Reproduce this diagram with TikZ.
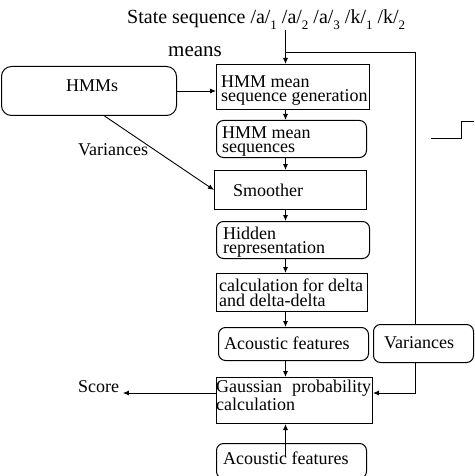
\documentclass[tikz,border=0pt]{standalone}
\usepackage{fontspec}
\setmainfont{Liberation Serif}
\usetikzlibrary{arrows.meta,calc}
\newcommand\sbs[1]{\raisebox{-5.5pt}{\fontsize{13}{13}\selectfont #1}}
\begin{document}
\begin{tikzpicture}[x=1pt,y=-1pt,
  line/.style={line width=0.9pt},
  arr/.style={line width=0.9pt,-{Latex[length=6pt,width=5pt]}},
  sqbox/.style={draw,line width=1pt,inner sep=0pt,anchor=north west},
  rdbox/.style={draw,line width=1pt,inner sep=0pt,anchor=north west,rounded corners=7pt},
  txt/.style={inner sep=0pt,anchor=base west,align=left,font=\fontsize{18}{14}\selectfont}]
\useasboundingbox (0,0) rectangle (474,476);
% boxes
\node[rdbox,rounded corners=10pt,minimum width=175pt,minimum height=49pt] (hmms) at (1,66) {};
\node[sqbox,minimum width=153pt,minimum height=45pt] (gen) at (216,64) {};
\node[rdbox,minimum width=150pt,minimum height=37pt] (mseq) at (216,120) {};
\node[sqbox,minimum width=152pt,minimum height=39pt] (smo) at (214,170) {};
\node[rdbox,minimum width=153pt,minimum height=37pt] (hid) at (216,221) {};
\node[sqbox,minimum width=151pt,minimum height=38pt] (calc) at (216,273) {};
\node[rdbox,minimum width=150pt,minimum height=33pt] (ac1) at (218,327) {};
\node[rdbox,minimum width=100pt,minimum height=38pt] (var) at (373,324) {};
\node[sqbox,minimum width=156pt,minimum height=46pt] (gau) at (216,377) {};
\node[rdbox,minimum width=150pt,minimum height=35pt] (ac2) at (216,443) {};
% texts (base anchor of a multi-line text = baseline of its last line)
\node[txt,font=\fontsize{20}{20}\selectfont] (title) at (127,24) {State sequence /a/\sbs{1} /a/\sbs{2} /a/\sbs{3} /k/\sbs{1} /k/\sbs{2}};
\node[txt,font=\fontsize{21}{21}\selectfont] (means) at (168,57) {means};
\node[txt] (hmmst) at (66,92) {HMMs};
\node[txt,font=\fontsize{18}{14.5}\selectfont] (gent) at (221,102) {HMM mean\\sequence generation};
\node[txt,font=\fontsize{18}{13.5}\selectfont] (mseqt) at (222,152) {HMM mean\\sequences};
\node[txt] (vart1) at (78,155) {Variances};
\node[txt] (smot) at (233,196.5) {Smoother};
\node[txt,font=\fontsize{18}{13.5}\selectfont] (hidt) at (223,253) {Hidden\\representation};
\node[txt,font=\fontsize{18}{15}\selectfont] (calct) at (219,306.7) {calculation for delta\\and delta-delta};
\node[txt] (ac1t) at (224,349) {Acoustic features};
\node[txt] (vart2) at (384,348) {Variances};
\node[txt,font=\fontsize{18}{14.3}\selectfont] (gaut) at (216,410) {\makebox[155pt][l]{Gaussian\hfill probability}\\calculation};
\node[txt] (score) at (78,392) {Score};
\node[txt] (ac2t) at (223,464) {Acoustic features};
% helper coordinates
\coordinate (axis) at (285.5,0);
\coordinate (vx) at (415,0);
\coordinate (gy) at (0,393);
\coordinate (mj) at (285.5,52);
\coordinate (sc) at ([xshift=3.5pt]score.east);
\coordinate (acs) at (285.5,457);
% connectors
\draw[arr] (axis |- 0,30) -- (axis |- gen.north);
\draw[line] (mj) -| (vx |- var.north);
\draw[arr] (hmms.east |- 0,91) -- (gen.west |- 0,91);
\draw[arr] ([xshift=15.5pt]hmms.south) -- (smo.west);
\draw[arr] (axis |- gen.south) -- (axis |- mseq.north);
\draw[arr] (axis |- mseq.south) -- (axis |- smo.north);
\draw[arr] (axis |- smo.south) -- (axis |- hid.north);
\draw[arr] (axis |- hid.south) -- (axis |- calc.north);
\draw[arr] (axis |- calc.south) -- (axis |- ac1.north);
\draw[arr] (axis |- ac1.south) -- (axis |- gau.north);
\draw[arr] (vx |- var.south) |- (gau.east |- gy);
\draw[arr] (gau.west |- gy) -- (sc |- gy);
\draw[arr] (acs) -- (axis |- gau.south);
% step glyph
\draw[line] (431,138) -- (461,138) -- (461,121) -- (474,121);
\end{tikzpicture}
\end{document}
